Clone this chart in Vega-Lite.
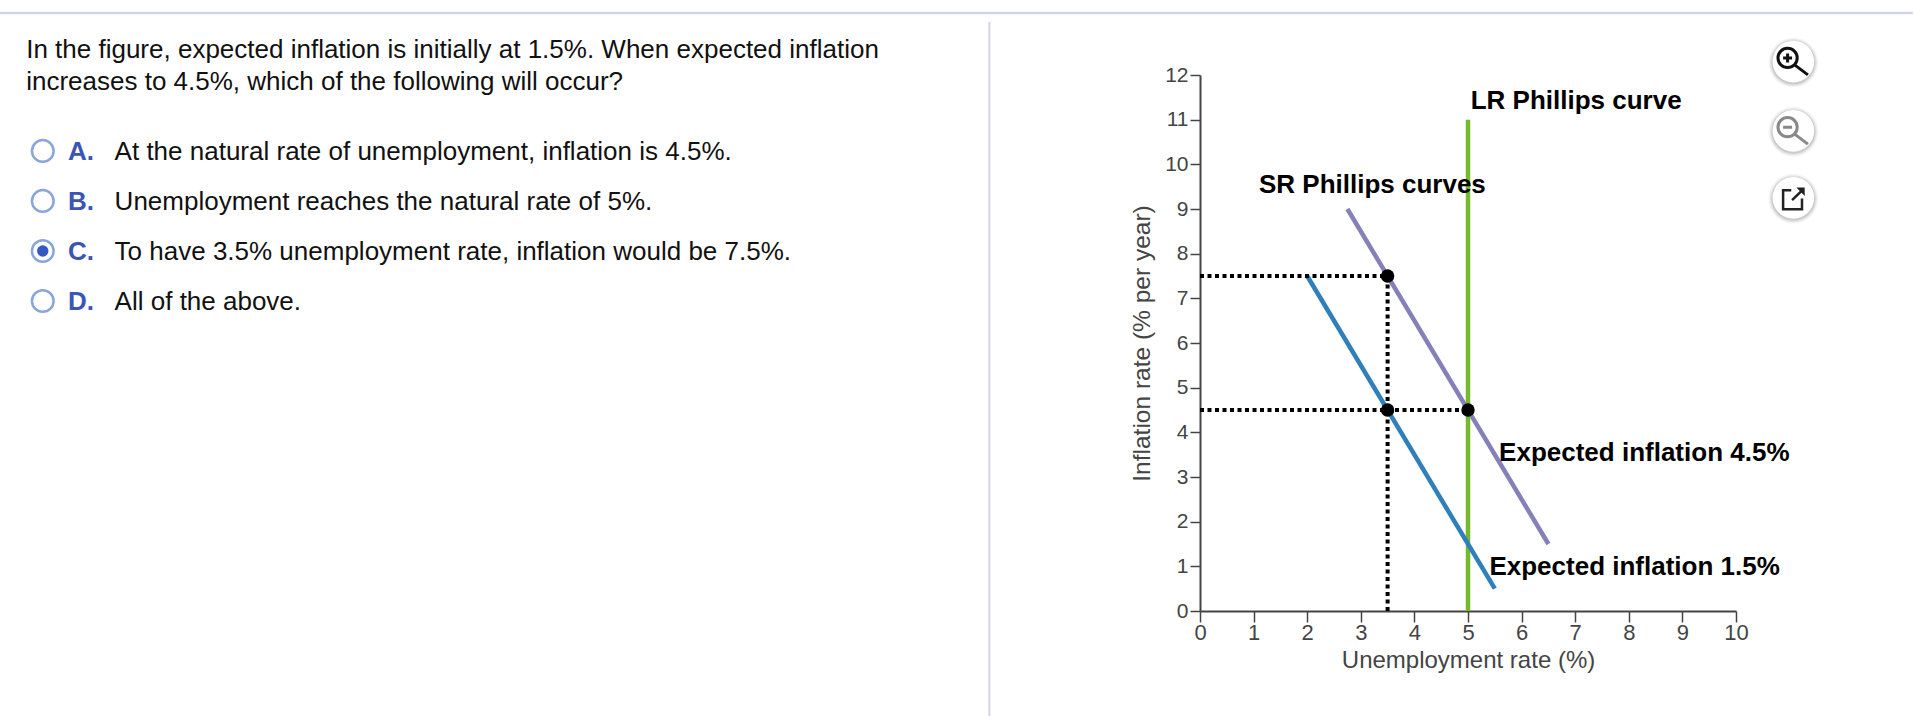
{
"$schema":"https://vega.github.io/schema/vega-lite/v6.json",
"width":536,"height":536,
"autosize":{"type":"none"},
"padding":{"left":1200,"top":75,"right":178,"bottom":105},
"background":"white",
"config":{"view":{"stroke":null},"font":"Liberation Sans"},
"encoding":{
"x":{"field":"x","type":"quantitative","scale":{"domain":[0,10],"nice":false,"zero":false},
"axis":{"values":[0,1,2,3,4,5,6,7,8,9,10],"title":"Unemployment rate (%)","grid":false,"domainColor":"#444444","domainWidth":2,"tickColor":"#444444","tickWidth":1.5,"tickSize":11,"labelColor":"#444444","labelFontSize":22,"labelPadding":0,"labelFont":"Liberation Sans","labelFontWeight":"normal","titleColor":"#444444","titleFontSize":24,"titleFontWeight":"normal","titleFont":"Liberation Sans","titlePadding":5,"labelOverlap":false,"labelFlush":false,"format":"d"}},
"y":{"field":"y","type":"quantitative","scale":{"domain":[0,12],"nice":false,"zero":false},
"axis":{"values":[0,1,2,3,4,5,6,7,8,9,10,11,12],"title":"Inflation rate (% per year)","grid":false,"domainColor":"#444444","domainWidth":2,"tickColor":"#444444","tickWidth":1.5,"tickSize":10,"labelColor":"#444444","labelFontSize":21,"labelPadding":2,"labelFont":"Liberation Sans","titleColor":"#444444","titleFontSize":24.5,"titleFontWeight":"normal","titleFont":"Liberation Sans","titlePadding":10,"labelOverlap":false,"format":"d"}}
},
"layer":[
{"data":{"values":[{"x":-22.4,"y":13.39},{"x":13.3,"y":13.39}]},"mark":{"type":"line","color":"#d3d6e2","strokeWidth":2.5}},
{"data":{"values":[{"x":-3.93,"y":13.19},{"x":-3.93,"y":-2.36}]},"mark":{"type":"line","color":"#d3d6e2","strokeWidth":2}},
{"data":{"values":[{"x":5,"y":0},{"x":5,"y":11}]},"mark":{"type":"line","color":"#76b82e","strokeWidth":4.5}},
{"data":{"values":[{"x":2,"y":7.5},{"x":5.5,"y":0.5}]},"mark":{"type":"line","color":"#2f7fbb","strokeWidth":4.5}},
{"data":{"values":[{"x":2.75,"y":9},{"x":6.5,"y":1.5}]},"mark":{"type":"line","color":"#8680b8","strokeWidth":4.5}},
{"data":{"values":[{"x":0,"y":7.5,"k":"a"},{"x":3.5,"y":7.5,"k":"a"},{"x":3.5,"y":0,"k":"b"},{"x":3.5,"y":7.5,"k":"b"},{"x":0,"y":4.5,"k":"c"},{"x":5,"y":4.5,"k":"c"}]},"mark":{"type":"line","color":"black","strokeWidth":4,"strokeDash":[4,3.5]},"encoding":{"detail":{"field":"k"}}},
{"data":{"values":[{"x":3.5,"y":7.5},{"x":3.5,"y":4.5},{"x":5,"y":4.5}]},"mark":{"type":"point","filled":true,"color":"black","size":180,"opacity":1}},
{"data":{"values":[{"x":5.05,"y":11.24,"t":"LR Phillips curve"},{"x":1.1,"y":9.36,"t":"SR Phillips curves"},{"x":5.58,"y":3.365,"t":"Expected inflation 4.5%"},{"x":5.4,"y":0.81,"t":"Expected inflation 1.5%"}]},"mark":{"type":"text","align":"left","baseline":"alphabetic","fontWeight":"bold","fontSize":26,"color":"black","font":"Liberation Sans"},"encoding":{"text":{"field":"t"}}},
{"data":{"values":[{"x":-21.9,"y":12.38,"t":"In the figure, expected inflation is initially at 1.5%. When expected inflation"},{"x":-21.9,"y":11.67,"t":"increases to 4.5%, which of the following will occur?"},{"x":-20.25,"y":10.1,"t":"At the natural rate of unemployment, inflation is 4.5%."},{"x":-20.25,"y":8.98,"t":"Unemployment reaches the natural rate of 5%."},{"x":-20.25,"y":7.86,"t":"To have 3.5% unemployment rate, inflation would be 7.5%."},{"x":-20.25,"y":6.74,"t":"All of the above."}]},"mark":{"type":"text","align":"left","baseline":"alphabetic","fontSize":26,"color":"#111111","font":"Liberation Sans"},"encoding":{"text":{"field":"t"}}},
{"data":{"values":[{"x":-21.12,"y":10.1,"t":"A."},{"x":-21.12,"y":8.98,"t":"B."},{"x":-21.12,"y":7.86,"t":"C."},{"x":-21.12,"y":6.74,"t":"D."}]},"mark":{"type":"text","align":"left","baseline":"alphabetic","fontSize":26,"fontWeight":"bold","color":"#3b55b5","font":"Liberation Sans"},"encoding":{"text":{"field":"t"}}},
{"data":{"values":[{"x":-21.59,"y":10.3},{"x":-21.59,"y":9.18},{"x":-21.59,"y":8.06},{"x":-21.59,"y":6.94}]},"mark":{"type":"point","shape":"circle","filled":false,"stroke":"#8aa5dc","strokeWidth":2.5,"size":470,"opacity":1}},
{"data":{"values":[{"x":-21.59,"y":8.06}]},"mark":{"type":"point","shape":"circle","filled":true,"color":"#3558c4","size":130,"opacity":1}},
{"data":{"values":[{"x":11.07,"y":12.28},{"x":11.07,"y":10.73},{"x":11.07,"y":9.23}]},"mark":{"type":"point","shape":"circle","filled":true,"color":"#000000","size":2500,"opacity":0.04}},
{"data":{"values":[{"x":11.07,"y":12.28},{"x":11.07,"y":10.73},{"x":11.07,"y":9.23}]},"mark":{"type":"point","shape":"circle","filled":true,"color":"#000000","size":2200,"opacity":0.07}},
{"data":{"values":[{"x":11.07,"y":12.28},{"x":11.07,"y":10.73},{"x":11.07,"y":9.23}]},"mark":{"type":"point","shape":"circle","filled":true,"color":"#000000","size":1950,"opacity":0.1}},
{"data":{"values":[{"x":11.07,"y":12.3},{"x":11.07,"y":10.75},{"x":11.07,"y":9.25}]},"mark":{"type":"point","shape":"circle","filled":true,"color":"#ffffff","size":1735,"opacity":1}},
{"data":{"values":[{"x":11.07,"y":12.3}]},"mark":{"type":"point","shape":"M-0.96,-0.23 A0.6,0.6 0 1 1 0.24,-0.23 A0.6,0.6 0 1 1 -0.96,-0.23 Z M0.06,0.19 L0.91,0.83 M-0.64,-0.23 L-0.08,-0.23 M-0.36,-0.51 L-0.36,0.05","filled":false,"stroke":"#111111","strokeWidth":3,"size":1024,"opacity":1}},
{"data":{"values":[{"x":11.07,"y":10.75}]},"mark":{"type":"point","shape":"M-0.96,-0.23 A0.6,0.6 0 1 1 0.24,-0.23 A0.6,0.6 0 1 1 -0.96,-0.23 Z M0.06,0.19 L0.91,0.83 M-0.64,-0.23 L-0.08,-0.23","filled":false,"stroke":"#888888","strokeWidth":3,"size":1024,"opacity":1}},
{"data":{"values":[{"x":11.07,"y":9.25}]},"mark":{"type":"point","shape":"M-0.13,-0.48 L-0.64,-0.48 L-0.64,0.71 L0.54,0.71 L0.54,0.04 M-0.08,0.14 L0.5,-0.42","filled":false,"stroke":"#222222","strokeWidth":2.5,"size":1024,"opacity":1}},
{"data":{"values":[{"x":11.07,"y":9.25}]},"mark":{"type":"point","shape":"M0.19,-0.64 L0.71,-0.64 L0.71,-0.12 Z","filled":true,"color":"#222222","size":1024,"opacity":1}}
]
}
